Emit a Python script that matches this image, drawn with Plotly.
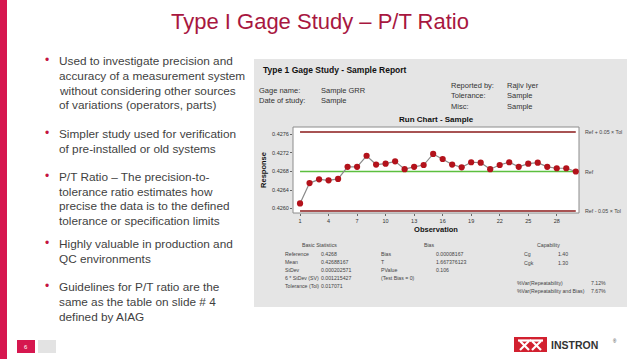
import plotly.graph_objects as go

W, H = 638, 359

# ---------------- data ----------------
observations = list(range(1, 31))
responses = [0.42611, 0.42655, 0.42663, 0.42661, 0.42664, 0.42690, 0.42690, 0.42714,
             0.42695, 0.42697, 0.42702, 0.42685, 0.42690, 0.42694, 0.42718, 0.42707,
             0.42695, 0.42689, 0.42700, 0.42699, 0.42685, 0.42694, 0.42700, 0.42690,
             0.42697, 0.42699, 0.42690, 0.42687, 0.42687, 0.42680]
reference = 0.4268
tolerance = 0.017071
upper_ref = reference + 0.05 * tolerance
lower_ref = reference - 0.05 * tolerance
y_ticks = [0.4260, 0.4264, 0.4268, 0.4272, 0.4276]
x_ticks = [1, 4, 7, 10, 13, 16, 19, 22, 25, 28]

slide_title = "Type I Gage Study – P/T Ratio"
bullets = [
    ["Used to investigate precision and", "accuracy of a measurement system",
     "without considering other sources", "of variations (operators, parts)"],
    ["Simpler study used for verification", "of pre-installed or old systems"],
    ["P/T Ratio – The precision-to-", "tolerance ratio estimates how",
     "precise the data is to the defined", "tolerance or specification limits"],
    ["Highly valuable in production and", "QC environments"],
    ["Guidelines for P/T ratio are the", "same as the table on slide # 4",
     "defined by AIAG"],
]
bullet_line_y = [[61, 76, 91, 105], [134, 149], [177, 192, 206, 221], [244, 259], [287, 302, 317]]

basic_labels = ["Reference", "Mean", "StDev", "6 * StDev (SV)", "Tolerance (Tol)"]
basic_values = ["0.4268", "0.42688167", "0.000202571", "0.001215427", "0.017071"]
bias_labels = ["Bias", "T", "PValue", "(Test Bias = 0)"]
bias_values = ["0.00008167", "1.667376123", "0.106", ""]
cap_labels = ["Cg", "Cgk"]
cap_values = ["1.40", "1.30"]
var_labels = ["%Var(Repeatability)", "%Var(Repeatability and Bias)"]
var_values = ["7.12%", "7.67%"]

# ---------------- helpers ----------------
def px(x):
    return x / W

def py(y):
    return 1 - y / H

annotations = []
shapes = []

def text(x, y, s, size=8, color="#333333", anchor="left", family="Liberation Sans", bold=False, vanchor="middle"):
    if bold:
        s = "<b>" + s + "</b>"
    annotations.append(dict(x=px(x), y=py(y), xref="paper", yref="paper", text=s, showarrow=False,
                            xanchor=anchor, yanchor=vanchor, borderpad=0,
                            font=dict(size=size, color=color, family=family)))

def rect(x0, y0, x1, y1, fill, line=None, layer="below"):
    shapes.append(dict(type="rect", xref="paper", yref="paper", x0=px(x0), x1=px(x1),
                       y0=py(y1), y1=py(y0), fillcolor=fill,
                       line=dict(width=0 if line is None else 1, color=line or fill), layer=layer))

# ---------------- slide decoration ----------------
rect(0, 0, 7, 359, "#D6174F")
text(320, 22, slide_title, size=22, color="#A8173F", anchor="center", family="Liberation Sans")

for lines, ys in zip(bullets, bullet_line_y):
    text(44, ys[0] - 1, "•", size=12, color="#C4143F")
    for s, yy in zip(lines, ys):
        text(58, yy, s, size=11.8, color="#3F3F3F")

# gray report panel and white plot area
rect(254, 59, 627, 307, "#E5E5E5")
rect(293, 127, 579, 213, "#FFFFFF", line="#8C8C8C")

text(262, 70, "Type 1 Gage Study - Sample Report", size=8.5, color="#111111", bold=True)
text(258, 91, "Gage name:", size=7.5)
text(320, 91, "Sample GRR", size=7.5)
text(258, 101, "Date of study:", size=7.5)
text(320, 101, "Sample", size=7.5)
text(450, 86, "Reported by:", size=7.5)
text(506, 86, "Rajiv Iyer", size=7.5)
text(450, 96, "Tolerance:", size=7.5)
text(506, 96, "Sample", size=7.5)
text(450, 106, "Misc:", size=7.5)
text(506, 106, "Sample", size=7.5)

text(436, 119, "Run Chart - Sample", size=8, color="#111111", anchor="center", bold=True)
text(584, 132, "Ref + 0.05 × Tol", size=5.3, color="#444444")
text(584, 171.5, "Ref", size=5.3, color="#444444")
text(584, 211, "Ref - 0.05 × Tol", size=5.3, color="#444444")

# statistics
stat_size = 5.2
text(320, 245, "Basic Statistics", size=stat_size, anchor="center", color="#444444")
for i, (l, v) in enumerate(zip(basic_labels, basic_values)):
    yy = 254 + i * 7.9
    text(284, yy, l, size=stat_size, color="#444444")
    text(320, yy, v, size=stat_size, color="#444444")
text(429, 245, "Bias", size=stat_size, anchor="center", color="#444444")
for i, (l, v) in enumerate(zip(bias_labels, bias_values)):
    yy = 254 + i * 7.9
    text(380, yy, l, size=stat_size, color="#444444")
    if v:
        text(435, yy, v, size=stat_size, color="#444444")
text(548, 245, "Capability", size=stat_size, anchor="center", color="#444444")
for i, (l, v) in enumerate(zip(cap_labels, cap_values)):
    yy = 254 + i * 8.5
    text(523, yy, l, size=stat_size, color="#444444")
    text(557, yy, v, size=stat_size, color="#444444")
for i, (l, v) in enumerate(zip(var_labels, var_values)):
    yy = 283 + i * 7.5
    text(516, yy, l, size=stat_size, color="#444444")
    text(590, yy, v, size=stat_size, color="#444444")

# footer
rect(17, 340, 35, 353, "#D6174F")
text(26, 346.5, "6", size=6, color="#FFFFFF", anchor="center")
rect(38, 340, 56, 353, "#E3E3E3")
rect(514, 337, 547, 352, "#D2202F")
for (a, b, c, d) in [(520, 341, 529, 350), (529, 341, 520, 350), (532, 341, 541, 350), (541, 341, 532, 350),
                     (518, 340.5, 531, 340.5), (530, 340.5, 543, 340.5)]:
    shapes.append(dict(type="line", xref="paper", yref="paper", x0=px(a), y0=py(b), x1=px(c), y1=py(d),
                       line=dict(color="#FFFFFF", width=2.2), layer="above"))
text(550, 344.5, "INSTRON", size=10.5, color="#333333", bold=True, family="Liberation Sans")
text(612, 341, "®", size=4.5, color="#333333")

# ---------------- chart ----------------
fig = go.Figure()
fig.add_trace(go.Scatter(x=[observations[0], observations[-1]], y=[upper_ref, upper_ref], mode="lines",
                         line=dict(color="#8B1A1A", width=1.3), hoverinfo="skip"))
fig.add_trace(go.Scatter(x=[observations[0], observations[-1]], y=[lower_ref, lower_ref], mode="lines",
                         line=dict(color="#8B1A1A", width=1.3), hoverinfo="skip"))
fig.add_trace(go.Scatter(x=[observations[0], observations[-1]], y=[reference, reference], mode="lines",
                         line=dict(color="#5CBF3F", width=1.3), hoverinfo="skip"))
fig.add_trace(go.Scatter(x=observations, y=responses, mode="lines+markers",
                         line=dict(color="#8A8A8A", width=1.2),
                         marker=dict(color="#B3121B", size=6.2, line=dict(width=0))))

y_lo = reference - (213 - 171.5) * 0.0000216
y_hi = reference + (171.5 - 127) * 0.0000216

fig.update_layout(
    width=W, height=H, margin=dict(l=0, r=0, t=0, b=0),
    paper_bgcolor="#FFFFFF", plot_bgcolor="rgba(0,0,0,0)",
    showlegend=False,
    shapes=shapes, annotations=annotations,
    xaxis=dict(domain=[px(293), px(579)], range=[0.26, 30.34], tickvals=x_ticks,
               showgrid=False, zeroline=False, showline=False,
               ticks="outside", ticklen=2, tickcolor="#666666",
               tickfont=dict(size=5.5, color="#333333", family="Liberation Sans"),
               title=dict(text="<b>Observation</b>", standoff=4,
                          font=dict(size=7.5, color="#111111", family="Liberation Sans"))),
    yaxis=dict(domain=[py(213), py(127)], range=[y_lo, y_hi], tickvals=y_ticks, tickformat=".4f",
               showgrid=False, zeroline=False, showline=False,
               ticks="outside", ticklen=2, tickcolor="#666666",
               tickfont=dict(size=5.5, color="#333333", family="Liberation Sans"),
               title=dict(text="<b>Response</b>", standoff=4,
                          font=dict(size=7.5, color="#111111", family="Liberation Sans"))),
)

fig.write_html("out.html", config={"displayModeBar": False},
               post_script="document.body.style.margin='0';document.body.style.overflow='hidden';")
